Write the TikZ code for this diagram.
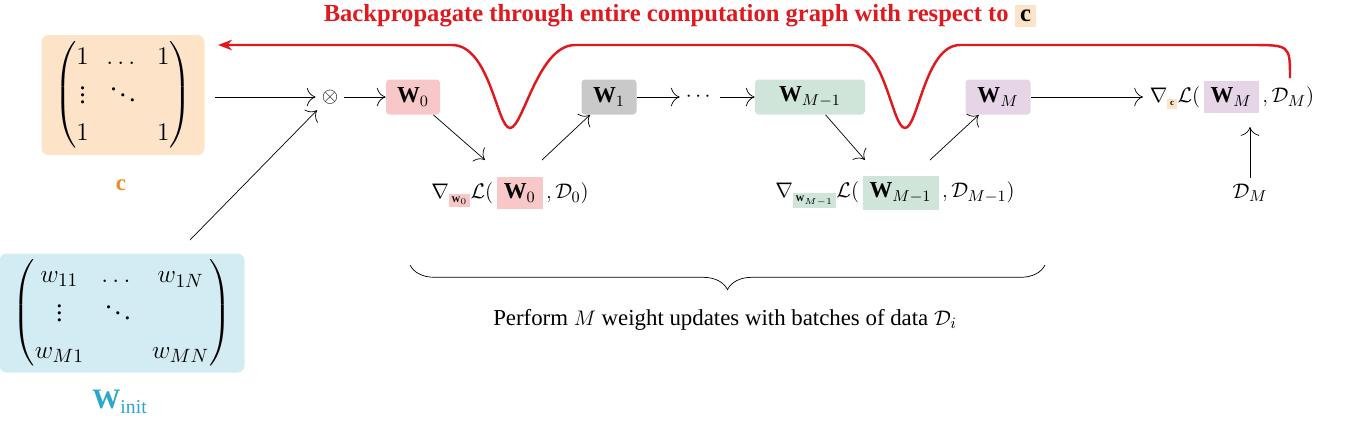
\documentclass[tikz,border=0pt]{standalone}
\usepackage{amsmath}
\usepackage{fontspec}
\setmainfont{Liberation Serif}
\usetikzlibrary{arrows.meta,decorations.pathreplacing}
\definecolor{corg}{HTML}{FDE3C8}
\definecolor{cblue}{HTML}{D3ECF3}
\definecolor{cpink}{HTML}{F8C8C8}
\definecolor{cgray}{HTML}{C9C9C9}
\definecolor{cgreen}{HTML}{CFE5DA}
\definecolor{cpurp}{HTML}{E5D5E7}
\definecolor{tred}{HTML}{E0191E}
\definecolor{torange}{HTML}{F08A24}
\definecolor{tteal}{HTML}{2AA7C9}
\newcommand{\mybox}[2]{{\setlength{\fboxsep}{1.5pt}\colorbox{#1}{\tiny$#2$}}}
\newcommand{\bigbox}[2]{{\setlength{\fboxsep}{4pt}\colorbox{#1}{$#2$}}}
\begin{document}
\begin{tikzpicture}[x=0.02cm,y=-0.02cm,font=\fontsize{13}{15}\selectfont,
  wb/.style={rounded corners=2pt,minimum height=0.7cm,inner sep=2pt},
  arr/.style={-{To[length=5pt]},thin},
  mat/.style={rounded corners=4pt,inner sep=0pt,font=\fontsize{15}{21}\selectfont}]
\useasboundingbox (0,0) rectangle (1352,420);
\node[mat,fill=corg,minimum width=163*0.02cm,minimum height=120*0.02cm] (C) at (123,95) {$\begin{pmatrix}1&\dots&1\\ \vdots&\ddots&\\ 1&&1\end{pmatrix}$};
\node[text=torange] (Cl) at (121,185) {$\mathbf{c}$};
\node[mat,fill=cblue,minimum width=245*0.02cm,minimum height=119*0.02cm] (B) at (122,313) {$\begin{pmatrix}w_{11}&\dots&w_{1N}\\ \vdots&\ddots&\\ w_{M1}&&w_{MN}\end{pmatrix}$};
\node[text=tteal] (Bl) at (120,402) {\fontsize{16}{18}\selectfont$\mathbf{W}_{\text{init}}$};
\node (X) at (330,97) {$\otimes$};
\node[wb,fill=cpink,minimum width=54*0.02cm] (W0) at (413,97) {$\mathbf{W}_0$};
\node[wb,fill=cgray,minimum width=55*0.02cm] (W1) at (609,97) {$\mathbf{W}_1$};
\node (D) at (700,97) {$\cdots$};
\node[wb,fill=cgreen,minimum width=110*0.02cm] (Wm1) at (810,97) {$\mathbf{W}_{M-1}$};
\node[wb,fill=cpurp,minimum width=65*0.02cm] (WM) at (998,97) {$\mathbf{W}_M$};
\node (G0) at (510,193) {$\nabla_{\mybox{cpink}{\mathbf{W}_0}}\mathcal{L}(\,\bigbox{cpink}{\mathbf{W}_0}\,,\mathcal{D}_0)$};
\node (G1) at (895,193) {$\nabla_{\mybox{cgreen}{\mathbf{W}_{M-1}}}\mathcal{L}(\,\bigbox{cgreen}{\mathbf{W}_{M-1}}\,,\mathcal{D}_{M-1})$};
\node (GM) at (1232,97) {$\nabla_{\mybox{corg}{\mathbf{c}}}\mathcal{L}(\,\bigbox{cpurp}{\mathbf{W}_M}\,,\mathcal{D}_M)$};
\coordinate (RS) at (1290,78);
\node (DM) at (1250,193) {$\mathcal{D}_M$};
\draw[arr] (215,97) -- (X);
\draw[arr] (190,240) -- (X);
\draw[arr] (X) -- (W0);
\draw[arr] (W0) -- (485,160);
\draw[arr] (542,160) -- (W1);
\draw[arr] (W1) -- (D);
\draw[arr] (D) -- (Wm1);
\draw[arr] (Wm1) -- (865,160);
\draw[arr] (930,160) -- (WM);
\draw[arr] (WM) -- (1143,97);
\draw[arr] (DM) -- (1250,127);
\draw[decorate,decoration={brace,mirror,amplitude=14pt}] (410,265) -- (1045,265) coordinate (br);
\node (BT) at (725,320) {Perform $M$ weight updates with batches of data $\mathcal{D}_i$};
\draw[tred,line width=1.4pt,-{Stealth[length=8pt]}] (RS) .. controls (1290,45) .. (1250,45) -- (960,45)
  .. controls (925,45) and (918,128) .. (905,128) .. controls (892,128) and (885,45) .. (850,45) -- (575,45)
  .. controls (538,45) and (523,128) .. (510,128) .. controls (497,128) and (490,45) .. (452,45) -- (218,45);
\node[text=tred,font=\fontsize{14}{16}\selectfont\bfseries] (T) at (680,16) {Backpropagate through entire computation graph with respect to \colorbox{corg}{\textcolor{black}{$\mathbf{c}$}}};
\end{tikzpicture}
\end{document}
